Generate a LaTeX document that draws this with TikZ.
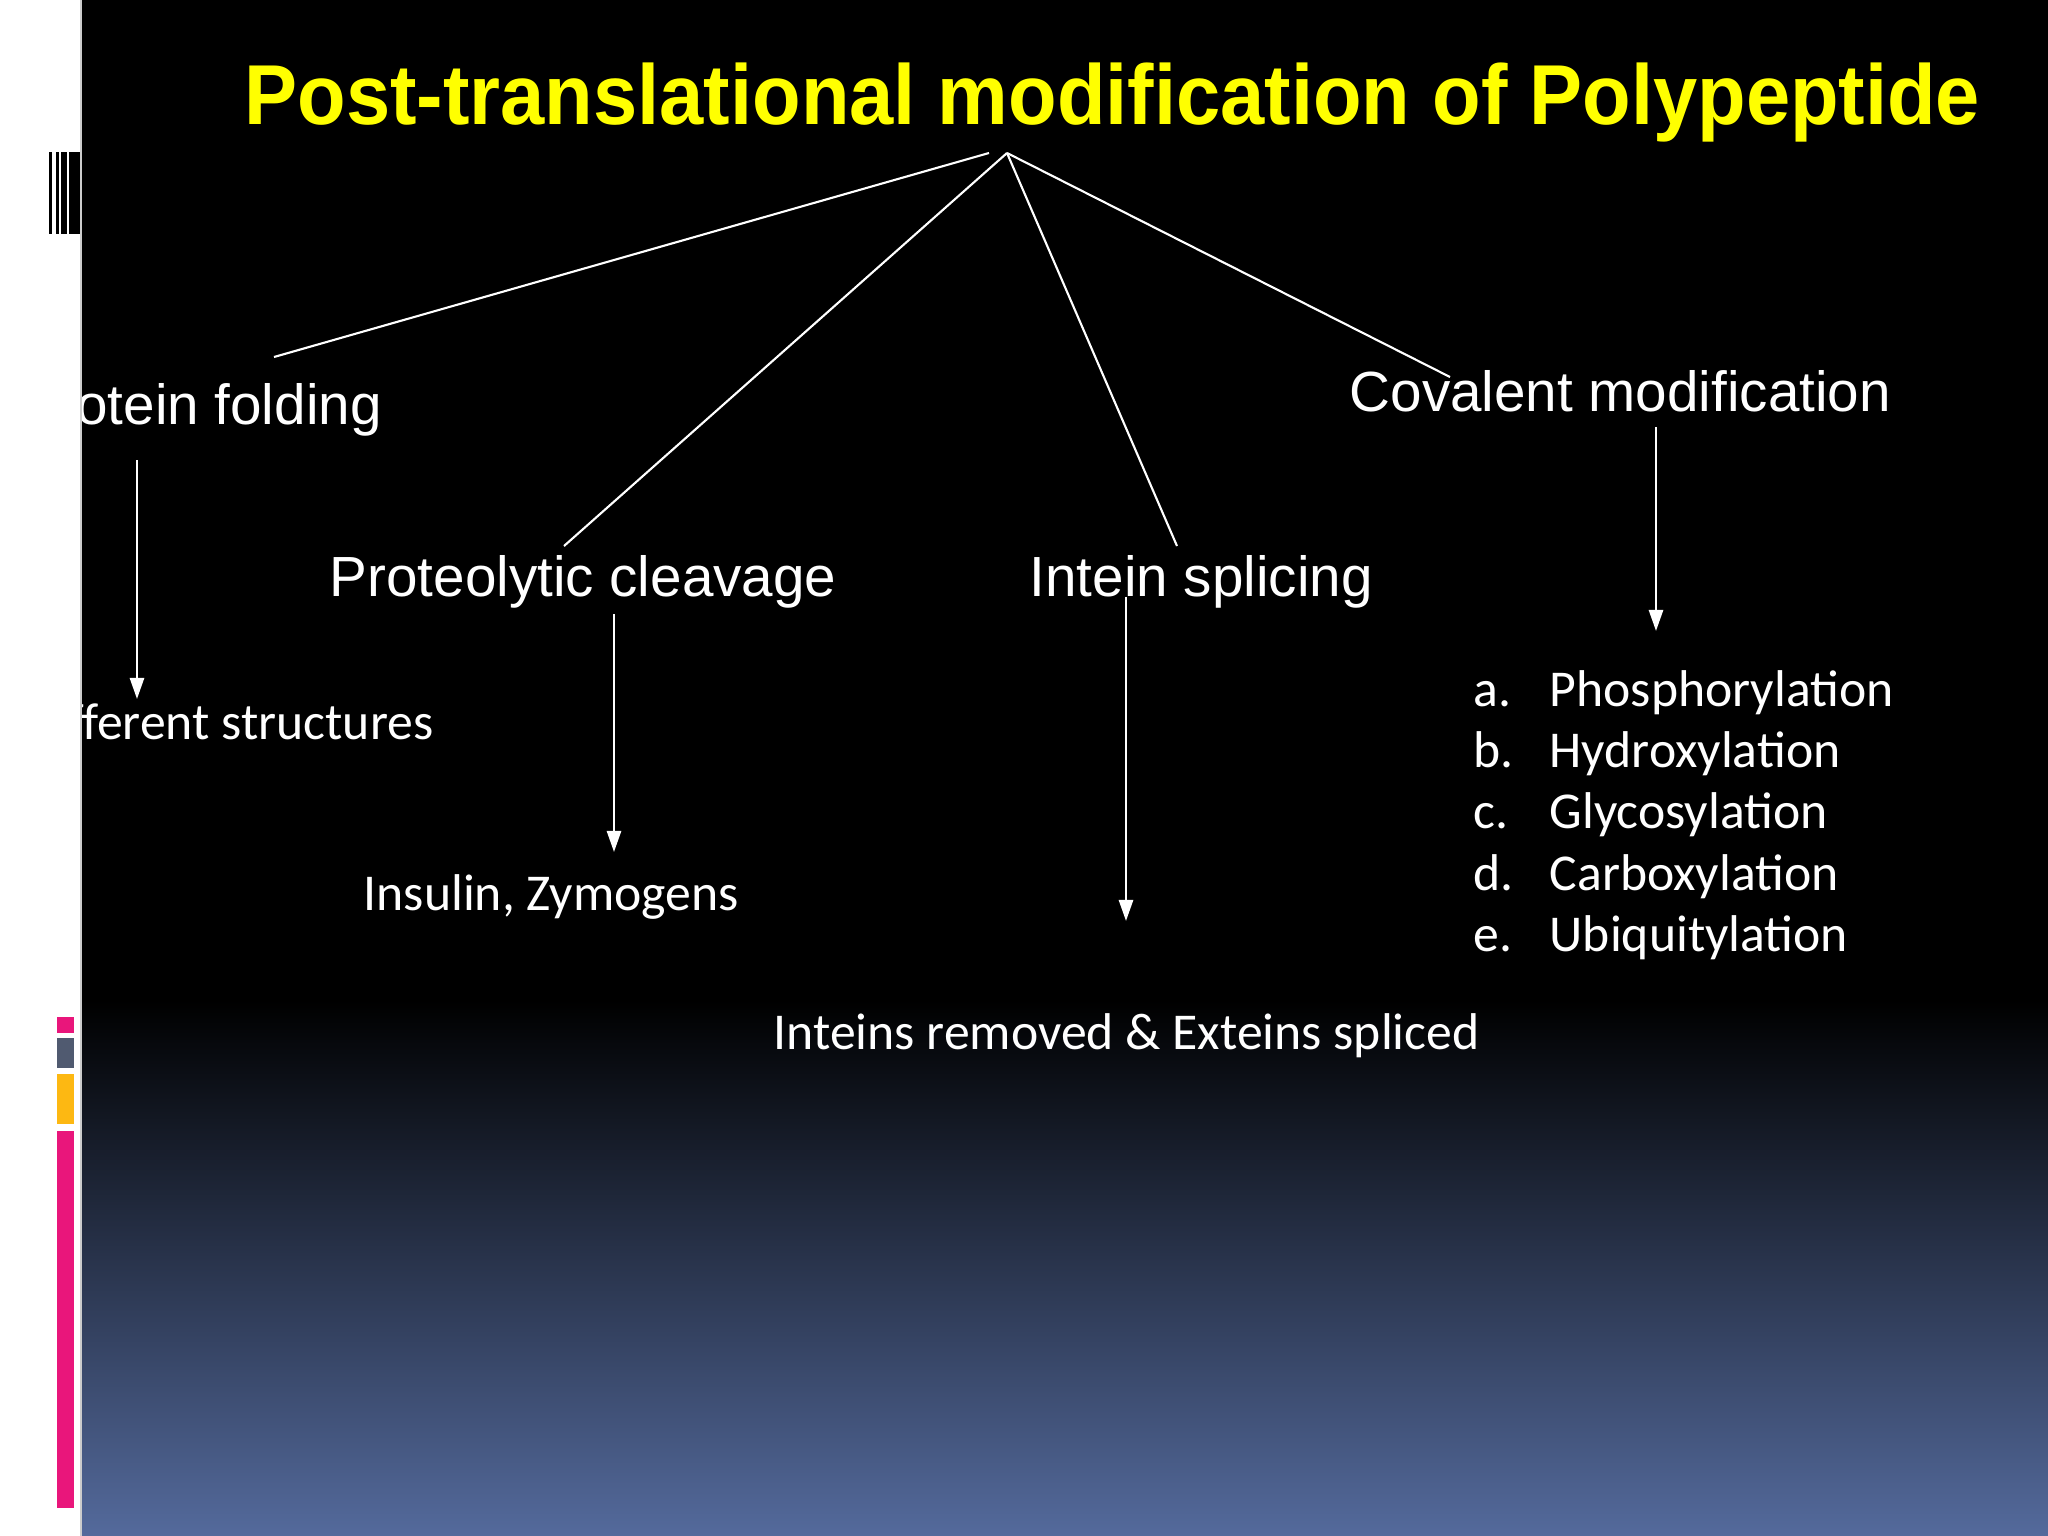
\documentclass[tikz,border=0pt]{standalone}
\usepackage{fontspec}
\setmainfont{Carlito}
\newfontfamily\arialfont{Liberation Sans}
\usetikzlibrary{arrows.meta,calc}
\definecolor{bgblue}{RGB}{84,106,156}
\definecolor{barpink}{RGB}{233,22,123}
\definecolor{bargray}{RGB}{80,90,112}
\definecolor{baryellow}{RGB}{253,184,18}
\definecolor{titleyellow}{RGB}{255,255,0}

\begin{document}
\begin{tikzpicture}[x=0.01cm, y=-0.01cm,
  every node/.style={text=white, inner sep=0pt, anchor=base west},
  head/.style={font=\arialfont\fontsize{16.1pt}{19pt}\selectfont},
  body/.style={font=\fontsize{14.7pt}{18pt}\selectfont},
  branch/.style={draw=white, line width=0.6pt},
  down/.style={draw=white, line width=0.75pt, -{Triangle[width=4pt,length=6pt]}},
]
\useasboundingbox (0,0) rectangle (2048,1536);
% slide background
\fill[black] (81,0) rectangle (2048,1536);
\shade[top color=black, bottom color=bgblue] (81,1000) rectangle (2048,1536);

% title
\node[font=\arialfont\bfseries\fontsize{22.6pt}{27pt}\selectfont, text=titleyellow, yscale=1.07]
  (title) at (244,124) {Post-translational modification of Polypeptide};

% branches
\node[head] (fold)   at (19,424)   {Protein folding};
\node[head] (prot)   at (329,596)  {Proteolytic cleavage};
\node[head] (intein) at (1029,596) {Intein splicing};
\node[head] (cov)    at (1349,411) {Covalent modification};

% results
\node[body, anchor=base east] (diff) at (434,739) {Different structures};
\node[body] (ins)    at (363,910)  {Insulin, Zymogens};
\node[body] (splice) at (773,1049) {Inteins removed \& Exteins spliced};
\foreach \l/\t [count=\i] in {a./Phosphorylation, b./Hydroxylation, c./Glycosylation,
    d./Carboxylation, e./Ubiquitylation}{
  \node[body] (lab\i) at (1473,{706+61.4*(\i-1)}) {\l};
  \node[body] (item\i) at (1549,{706+61.4*(\i-1)}) {\t};
}

% lines from the title
\coordinate (apex)  at (1007,153);
\coordinate (apexL) at (989,153);
\coordinate (foldT) at (274,357);
\coordinate (protT) at (564,546);
\coordinate (intT)  at (1177,546);
\coordinate (covT)  at (1450,377);
\draw[branch] (apexL) -- (foldT);
\draw[branch] (apex) -- (protT);
\draw[branch] (apex) -- (intT);
\draw[branch] (apex) -- (covT);

% arrows down
\coordinate (foldA) at (137,460);  \coordinate (foldB) at (137,699);
\coordinate (protA) at (614,614);  \coordinate (protB) at (614,852);
\coordinate (intA)  at (1126,597); \coordinate (intB)  at (1126,921);
\coordinate (covA)  at (1656,427); \coordinate (covB)  at (1656,631);
\draw[down] (foldA) -- (foldB);
\draw[down] (protA) -- (protB);
\draw[down] (intA) -- (intB);
\draw[down] (covA) -- (covB);

% white side strip with its marks
\fill[white] (0,0) rectangle (81,1536);
\draw[black!20, line width=0.4pt] (81,0) -- (81,1536);
\fill[black] (49,152) rectangle (52,234);
\fill[black] (56,152) rectangle (58.5,234);
\fill[black] (60.5,152) rectangle (67,234);
\fill[black] (69,152) rectangle (79.5,234);
\fill[barpink]    (57,1017) rectangle (74,1033);
\fill[bargray]    (57,1038) rectangle (74,1068);
\fill[baryellow]  (57,1074) rectangle (74,1124);
\fill[barpink]    (57,1131) rectangle (74,1508);
\end{tikzpicture}
\end{document}
